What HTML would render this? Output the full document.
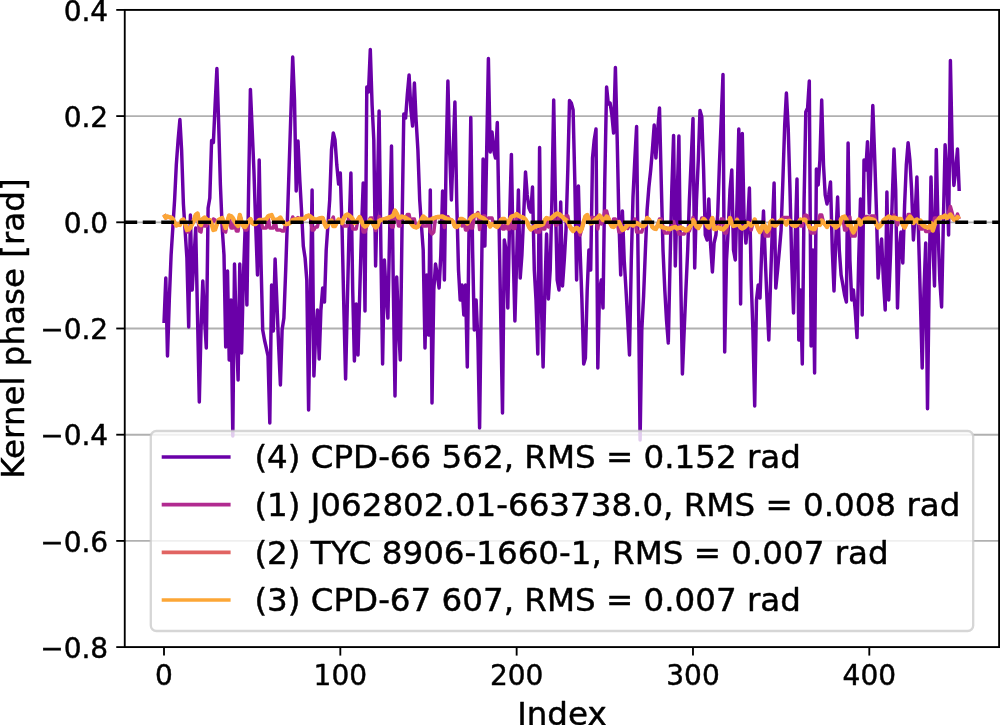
<!DOCTYPE html>
<html lang="en"><head><meta charset="utf-8"><title>Kernel phase</title>
<style>html,body{margin:0;padding:0;background:#fff;}body{width:1000px;height:725px;overflow:hidden;}svg{display:block;}text{font-family:"DejaVu Sans","Liberation Sans",sans-serif;fill:#000;stroke:#000;stroke-width:0.45px;stroke-linejoin:round;}</style>
</head><body>
<svg width="1000" height="725" viewBox="0 0 1000 725">
<rect x="0" y="0" width="1000" height="725" fill="#ffffff"/>
<g stroke="#b0b0b0" stroke-width="1.85" fill="none">
<line x1="124.75" y1="9.90" x2="999.10" y2="9.90"/>
<line x1="124.75" y1="116.10" x2="999.10" y2="116.10"/>
<line x1="124.75" y1="222.30" x2="999.10" y2="222.30"/>
<line x1="124.75" y1="328.50" x2="999.10" y2="328.50"/>
<line x1="124.75" y1="434.70" x2="999.10" y2="434.70"/>
<line x1="124.75" y1="540.90" x2="999.10" y2="540.90"/>
<line x1="124.75" y1="647.10" x2="999.10" y2="647.10"/>
</g>
<defs><clipPath id="ax"><rect x="124.75" y="9.90" width="874.35" height="637.20"/></clipPath></defs>
<g clip-path="url(#ax)" fill="none" stroke-linejoin="round" stroke-linecap="butt">
<polyline points="164.0,323.0 165.8,278.0 167.5,356.0 169.3,300.0 171.1,255.0 172.8,228.0 174.6,200.0 176.3,165.0 178.1,140.0 179.9,119.6 181.6,150.0 183.4,204.0 185.2,232.0 186.9,258.0 188.7,327.0 190.4,215.0 192.2,290.0 194.0,258.0 195.7,228.0 197.5,315.0 199.3,402.0 201.0,330.0 202.8,281.0 204.6,320.0 206.3,348.0 208.1,208.0 209.8,198.0 211.6,140.6 213.4,142.4 215.1,105.0 216.9,68.6 218.7,125.0 220.4,185.0 222.2,228.0 224.0,255.0 225.7,347.0 227.5,271.0 229.2,360.0 231.0,300.0 232.8,436.0 234.5,264.0 236.3,330.0 238.1,380.0 239.8,264.0 241.6,353.0 243.3,280.0 245.1,229.0 246.9,305.0 248.6,190.0 250.4,89.4 252.2,130.0 253.9,170.0 255.7,225.0 257.5,275.0 259.2,160.0 261.0,262.0 262.7,330.0 264.5,340.0 266.3,348.0 268.0,356.0 269.8,423.0 271.6,285.0 273.3,331.0 275.1,259.0 276.8,300.0 278.6,345.0 280.4,385.0 282.1,330.0 283.9,318.0 285.7,270.0 287.4,220.0 289.2,165.0 291.0,110.0 292.7,57.0 294.5,100.0 296.2,191.0 298.0,141.0 299.8,180.0 301.5,210.0 303.3,246.0 305.1,258.0 306.8,280.0 308.6,410.0 310.3,300.0 312.1,190.0 313.9,376.0 315.6,335.0 317.4,310.0 319.2,359.0 320.9,310.0 322.7,288.0 324.5,302.0 326.2,250.0 328.0,224.0 329.7,200.0 331.5,150.0 333.3,133.0 335.0,140.0 336.8,165.0 338.6,184.0 340.3,173.0 342.1,230.0 343.9,310.0 345.6,379.0 347.4,300.0 349.1,230.0 350.9,173.0 352.7,290.0 354.4,361.0 356.2,304.0 358.0,355.0 359.7,295.0 361.5,230.0 363.2,183.0 365.0,311.0 366.8,87.0 368.5,92.0 370.3,49.6 372.1,105.0 373.8,140.0 375.6,266.0 377.4,190.0 379.1,111.0 380.9,250.0 382.6,364.0 384.4,260.0 386.2,295.0 387.9,318.0 389.7,230.0 391.5,146.0 393.2,280.0 395.0,396.0 396.7,277.0 398.5,325.0 400.3,360.0 402.0,230.0 403.8,114.0 405.6,118.0 407.3,95.0 409.1,75.0 410.9,110.0 412.6,126.0 414.4,83.0 416.1,120.0 417.9,150.0 419.7,200.0 421.4,225.0 423.2,250.0 425.0,348.0 426.7,275.0 428.5,335.0 430.3,190.0 432.0,403.0 433.8,290.0 435.5,264.0 437.3,275.0 439.1,288.0 440.8,255.0 442.6,191.0 444.4,280.0 446.1,160.0 447.9,81.0 449.6,150.0 451.4,200.0 453.2,150.0 454.9,102.0 456.7,200.0 458.5,270.0 460.2,300.0 462.0,285.0 463.8,315.0 465.5,285.0 467.3,367.0 469.0,230.0 470.8,117.4 472.6,250.0 474.3,330.0 476.1,300.0 477.9,340.0 479.6,428.0 481.4,290.0 483.1,159.0 484.9,246.0 486.7,150.0 488.4,58.6 490.2,152.0 492.0,132.0 493.7,150.0 495.5,158.0 497.3,122.6 499.0,220.0 500.8,320.0 502.5,413.0 504.3,240.0 506.1,250.0 507.8,308.0 509.6,220.0 511.4,154.4 513.1,250.0 514.9,321.0 516.6,262.0 518.4,190.0 520.2,278.0 521.9,255.0 523.7,215.0 525.5,172.0 527.2,195.0 529.0,208.0 530.8,212.0 532.5,187.0 534.3,270.0 536.0,300.0 537.8,354.0 539.6,147.6 541.3,300.0 543.1,367.0 544.9,290.0 546.6,234.0 548.4,299.0 550.2,270.0 551.9,200.0 553.7,100.0 555.4,200.0 557.2,280.0 559.0,290.0 560.7,202.0 562.5,286.0 564.3,260.0 566.0,230.0 567.8,170.0 569.5,100.6 571.3,103.0 573.1,110.0 574.8,180.0 576.6,280.0 578.4,186.0 580.1,250.0 581.9,300.0 583.7,364.0 585.4,358.0 587.2,290.0 588.9,250.0 590.7,270.0 592.5,158.0 594.2,140.0 596.0,129.0 597.8,368.0 599.5,290.0 601.3,280.0 603.0,308.0 604.8,180.0 606.6,87.0 608.3,104.0 610.1,103.0 611.9,115.0 613.6,133.0 615.4,67.6 617.2,140.0 618.9,220.0 620.7,275.0 622.4,211.0 624.2,260.0 626.0,290.0 627.7,320.0 629.5,355.0 631.3,260.0 633.0,197.0 634.8,160.0 636.6,126.6 638.3,280.0 640.1,440.0 641.8,330.0 643.6,296.0 645.4,250.0 647.1,210.0 648.9,187.0 650.7,170.0 652.4,150.0 654.2,125.0 655.9,158.0 657.7,130.0 659.5,108.0 661.2,180.0 663.0,250.0 664.8,290.0 666.5,320.0 668.3,343.0 670.1,260.0 671.8,190.0 673.6,135.4 675.3,266.0 677.1,200.0 678.9,136.0 680.6,270.0 682.4,374.0 684.2,330.0 685.9,290.0 687.7,250.0 689.4,200.0 691.2,160.0 693.0,118.6 694.7,268.0 696.5,200.0 698.3,160.0 700.0,110.4 701.8,117.0 703.6,170.0 705.3,235.0 707.1,240.0 708.8,199.0 710.6,245.0 712.4,272.0 714.1,243.0 715.9,235.0 717.7,215.0 719.4,165.0 721.2,120.0 723.0,74.4 724.7,352.0 726.5,260.0 728.2,230.0 730.0,190.0 731.8,170.0 733.5,250.0 735.3,260.0 737.1,200.0 738.8,129.0 740.6,304.0 742.3,133.4 744.1,220.0 745.9,243.0 747.6,225.0 749.4,188.0 751.2,280.0 752.9,330.0 754.7,406.0 756.5,300.0 758.2,285.0 760.0,298.0 761.7,250.0 763.5,211.0 765.3,260.0 767.0,300.0 768.8,340.0 770.6,280.0 772.3,230.0 774.1,183.0 775.8,288.0 777.6,270.0 779.4,250.0 781.1,230.0 782.9,180.0 784.7,125.0 786.4,93.0 788.2,128.0 790.0,190.0 791.7,260.0 793.5,313.0 795.2,240.0 797.0,179.0 798.8,340.0 800.5,290.0 802.3,364.0 804.1,200.0 805.8,112.0 807.6,108.0 809.3,81.0 811.1,346.0 812.9,250.0 814.6,373.0 816.4,169.0 818.2,185.0 819.9,160.0 821.7,100.0 823.5,165.0 825.2,195.0 827.0,204.0 828.7,195.0 830.5,182.0 832.3,250.0 834.0,291.0 835.8,240.0 837.6,197.0 839.3,250.0 841.1,275.0 842.9,285.0 844.6,295.0 846.4,302.0 848.1,143.0 849.9,260.0 851.7,300.0 853.4,290.0 855.2,310.0 857.0,337.6 858.7,260.0 860.5,199.0 862.2,315.0 864.0,160.0 865.8,170.0 867.5,141.7 869.3,213.0 871.1,160.0 872.8,105.6 874.6,155.0 876.4,210.0 878.1,278.0 879.9,255.0 881.6,239.0 883.4,280.0 885.2,310.0 886.9,192.0 888.7,300.0 890.5,255.0 892.2,201.0 894.0,149.0 895.7,190.0 897.5,308.0 899.3,250.0 901.0,232.0 902.8,263.0 904.6,205.0 906.3,165.0 908.1,142.7 909.9,160.0 911.6,190.0 913.4,240.0 915.1,215.0 916.9,177.0 918.7,240.0 920.4,300.0 922.2,368.0 924.0,290.0 925.7,243.0 927.5,408.8 929.3,270.0 931.0,177.0 932.8,240.0 934.5,286.0 936.3,149.4 938.1,230.0 939.8,280.0 941.6,307.0 943.4,220.0 945.1,144.8 946.9,175.0 948.6,235.0 950.4,60.6 952.2,150.0 953.9,185.4 955.7,170.0 957.5,149.0 959.2,191.0" stroke="#6a00a8" stroke-width="3.47"/>
<polyline points="164.0,214.5 165.8,217.5 167.5,216.5 169.3,217.0 171.1,217.5 172.8,219.0 174.6,222.5 176.3,225.5 178.1,224.5 179.9,225.0 181.6,220.5 183.4,219.5 185.2,224.0 186.9,232.0 188.7,232.0 190.4,227.5 192.2,224.0 194.0,220.0 195.7,215.0 197.5,213.5 199.3,231.0 201.0,232.0 202.8,219.0 204.6,226.0 206.3,226.0 208.1,222.0 209.8,220.0 211.6,224.0 213.4,219.0 215.1,220.0 216.9,224.0 218.7,220.0 220.4,219.0 222.2,218.0 224.0,231.0 225.7,232.0 227.5,221.0 229.2,215.5 231.0,228.0 232.8,228.0 234.5,221.0 236.3,231.0 238.1,231.0 239.8,215.0 241.6,222.0 243.3,226.0 245.1,230.0 246.9,230.0 248.6,221.0 250.4,219.0 252.2,223.0 253.9,224.0 255.7,224.0 257.5,222.0 259.2,220.0 261.0,220.0 262.7,228.0 264.5,228.0 266.3,228.0 268.0,216.5 269.8,228.0 271.6,228.0 273.3,228.0 275.1,220.0 276.8,230.0 278.6,230.0 280.4,230.0 282.1,231.0 283.9,231.0 285.7,224.0 287.4,224.0 289.2,223.5 291.0,222.0 292.7,217.0 294.5,219.5 296.2,219.5 298.0,217.5 299.8,219.0 301.5,219.0 303.3,219.0 305.1,218.0 306.8,216.0 308.6,215.5 310.3,216.5 312.1,230.0 313.9,230.0 315.6,227.0 317.4,227.0 319.2,218.5 320.9,218.0 322.7,218.0 324.5,223.5 326.2,227.0 328.0,225.0 329.7,221.0 331.5,220.5 333.3,217.0 335.0,226.0 336.8,222.5 338.6,219.5 340.3,221.0 342.1,223.0 343.9,226.0 345.6,226.0 347.4,226.0 349.1,215.5 350.9,217.0 352.7,229.0 354.4,229.0 356.2,229.0 358.0,219.5 359.7,217.0 361.5,221.0 363.2,232.0 365.0,232.0 366.8,225.5 368.5,222.5 370.3,218.0 372.1,218.0 373.8,225.0 375.6,230.5 377.4,226.0 379.1,216.5 380.9,220.0 382.6,219.5 384.4,219.0 386.2,218.5 387.9,218.0 389.7,217.0 391.5,227.0 393.2,227.0 395.0,210.5 396.7,213.5 398.5,226.0 400.3,226.0 402.0,216.5 403.8,217.0 405.6,218.0 407.3,214.5 409.1,214.5 410.9,223.0 412.6,219.0 414.4,219.0 416.1,227.5 417.9,226.5 419.7,223.0 421.4,219.5 423.2,226.0 425.0,226.0 426.7,226.0 428.5,220.0 430.3,232.0 432.0,234.0 433.8,232.0 435.5,217.5 437.3,217.0 439.1,217.0 440.8,216.5 442.6,216.5 444.4,227.5 446.1,218.5 447.9,216.5 449.6,219.5 451.4,220.0 453.2,222.0 454.9,226.5 456.7,227.0 458.5,225.5 460.2,219.0 462.0,226.0 463.8,220.0 465.5,230.0 467.3,230.0 469.0,221.5 470.8,228.0 472.6,228.0 474.3,215.5 476.1,215.0 477.9,212.5 479.6,229.5 481.4,217.5 483.1,216.0 484.9,216.0 486.7,221.0 488.4,218.0 490.2,218.0 492.0,218.0 493.7,224.5 495.5,226.0 497.3,227.0 499.0,224.5 500.8,220.0 502.5,229.0 504.3,229.0 506.1,221.5 507.8,229.0 509.6,229.0 511.4,216.5 513.1,228.5 514.9,228.5 516.6,214.0 518.4,215.5 520.2,216.5 521.9,217.0 523.7,218.0 525.5,219.5 527.2,222.5 529.0,227.0 530.8,229.5 532.5,228.0 534.3,227.0 536.0,232.0 537.8,232.0 539.6,232.0 541.3,225.0 543.1,229.0 544.9,229.0 546.6,218.0 548.4,227.0 550.2,219.0 551.9,217.5 553.7,216.0 555.4,225.0 557.2,225.0 559.0,214.0 560.7,215.5 562.5,217.0 564.3,219.0 566.0,216.0 567.8,216.0 569.5,225.5 571.3,229.0 573.1,231.0 574.8,229.0 576.6,228.0 578.4,229.0 580.1,235.0 581.9,228.5 583.7,222.0 585.4,216.5 587.2,215.0 588.9,220.0 590.7,217.5 592.5,217.5 594.2,217.5 596.0,219.0 597.8,229.0 599.5,215.5 601.3,224.0 603.0,220.0 604.8,211.0 606.6,211.0 608.3,218.0 610.1,223.0 611.9,226.5 613.6,219.0 615.4,219.0 617.2,222.5 618.9,232.0 620.7,232.0 622.4,230.0 624.2,229.0 626.0,227.0 627.7,228.5 629.5,224.0 631.3,224.5 633.0,225.5 634.8,219.0 636.6,232.0 638.3,232.0 640.1,232.0 641.8,232.0 643.6,226.0 645.4,224.5 647.1,218.0 648.9,219.5 650.7,222.5 652.4,227.0 654.2,228.5 655.9,229.0 657.7,225.5 659.5,219.0 661.2,219.0 663.0,227.5 664.8,233.0 666.5,233.0 668.3,233.0 670.1,229.0 671.8,228.0 673.6,221.5 675.3,227.0 677.1,228.5 678.9,234.0 680.6,234.0 682.4,234.0 684.2,234.0 685.9,230.5 687.7,231.0 689.4,231.0 691.2,225.0 693.0,217.5 694.7,222.5 696.5,226.5 698.3,228.0 700.0,225.0 701.8,218.0 703.6,218.0 705.3,220.5 707.1,226.0 708.8,227.5 710.6,222.0 712.4,218.0 714.1,229.0 715.9,229.0 717.7,227.5 719.4,228.0 721.2,219.0 723.0,219.0 724.7,233.0 726.5,233.0 728.2,222.5 730.0,218.0 731.8,223.5 733.5,226.0 735.3,225.5 737.1,218.5 738.8,225.0 740.6,227.5 742.3,228.5 744.1,227.5 745.9,226.0 747.6,223.0 749.4,224.0 751.2,230.0 752.9,223.0 754.7,219.5 756.5,224.5 758.2,229.0 760.0,232.0 761.7,228.5 763.5,223.0 765.3,236.0 767.0,236.0 768.8,236.0 770.6,222.0 772.3,220.5 774.1,225.5 775.8,225.5 777.6,223.5 779.4,221.5 781.1,220.0 782.9,217.5 784.7,217.5 786.4,217.5 788.2,217.5 790.0,221.0 791.7,224.5 793.5,225.5 795.2,226.0 797.0,225.0 798.8,222.0 800.5,226.0 802.3,226.0 804.1,216.0 805.8,215.0 807.6,216.0 809.3,227.0 811.1,233.0 812.9,233.0 814.6,233.0 816.4,225.5 818.2,224.5 819.9,215.0 821.7,215.0 823.5,222.5 825.2,224.5 827.0,227.0 828.7,223.5 830.5,221.5 832.3,224.0 834.0,225.5 835.8,227.5 837.6,226.0 839.3,224.5 841.1,219.0 842.9,217.0 844.6,230.0 846.4,230.0 848.1,225.0 849.9,217.0 851.7,236.0 853.4,236.0 855.2,236.0 857.0,222.0 858.7,219.5 860.5,224.5 862.2,222.0 864.0,220.0 865.8,216.5 867.5,216.5 869.3,218.5 871.1,216.0 872.8,216.0 874.6,216.0 876.4,224.5 878.1,227.5 879.9,226.0 881.6,224.0 883.4,220.5 885.2,219.0 886.9,218.0 888.7,216.5 890.5,217.5 892.2,218.0 894.0,215.0 895.7,218.0 897.5,225.0 899.3,219.0 901.0,219.0 902.8,224.5 904.6,227.5 906.3,224.0 908.1,214.5 909.9,214.5 911.6,218.5 913.4,223.0 915.1,220.5 916.9,219.5 918.7,222.5 920.4,229.0 922.2,229.0 924.0,226.0 925.7,231.5 927.5,231.5 929.3,231.5 931.0,223.0 932.8,230.5 934.5,218.0 936.3,218.0 938.1,220.0 939.8,217.5 941.6,217.0 943.4,217.0 945.1,215.5 946.9,218.0 948.6,213.0 950.4,206.5 952.2,213.0 953.9,219.5 955.7,219.5 957.5,214.0 959.2,219.0" stroke="#b12a90" stroke-width="3.47"/>
<polyline points="164.0,215.3 165.8,218.0 167.5,217.1 169.3,217.5 171.1,218.0 172.8,219.3 174.6,222.5 176.3,225.2 178.1,224.3 179.9,224.7 181.6,220.7 183.4,219.8 185.2,223.8 186.9,229.2 188.7,228.8 190.4,227.0 192.2,223.8 194.0,220.2 195.7,215.7 197.5,214.4 199.3,222.9 201.0,224.7 202.8,219.3 204.6,218.0 206.3,219.3 208.1,222.0 209.8,220.2 211.6,223.8 213.4,229.2 215.1,228.8 216.9,223.8 218.7,220.2 220.4,219.3 222.2,218.4 224.0,222.9 225.7,227.4 227.5,221.1 229.2,216.2 231.0,216.6 232.8,218.4 234.5,221.1 236.3,223.8 238.1,225.6 239.8,215.7 241.6,222.0 243.3,225.6 245.1,226.5 246.9,223.8 248.6,221.1 250.4,219.3 252.2,222.9 253.9,223.8 255.7,223.8 257.5,222.0 259.2,220.2 261.0,220.2 262.7,220.2 264.5,219.8 266.3,219.3 268.0,217.1 269.8,216.2 271.6,215.7 273.3,219.3 275.1,220.2 276.8,219.8 278.6,219.3 280.4,218.0 282.1,220.7 283.9,222.9 285.7,223.8 287.4,223.8 289.2,223.4 291.0,222.0 292.7,220.2 294.5,219.8 296.2,219.8 298.0,219.3 299.8,219.3 301.5,219.3 303.3,219.3 305.1,218.4 306.8,216.6 308.6,216.2 310.3,217.1 312.1,218.4 313.9,219.3 315.6,219.8 317.4,219.8 319.2,218.9 320.9,218.4 322.7,218.4 324.5,223.4 326.2,226.5 328.0,224.7 329.7,221.1 331.5,220.7 333.3,225.6 335.0,225.6 336.8,222.5 338.6,219.8 340.3,221.1 342.1,222.9 343.9,218.4 345.6,216.2 347.4,215.3 349.1,216.2 350.9,217.5 352.7,219.3 354.4,222.9 356.2,222.0 358.0,219.8 359.7,217.5 361.5,221.1 363.2,224.7 365.0,226.1 366.8,225.2 368.5,222.5 370.3,220.2 372.1,222.5 373.8,224.7 375.6,227.0 377.4,225.6 379.1,221.1 380.9,220.2 382.6,219.8 384.4,219.3 386.2,218.9 387.9,218.4 389.7,217.5 391.5,217.1 393.2,216.2 395.0,211.7 396.7,214.4 398.5,218.0 400.3,218.0 402.0,217.1 403.8,217.5 405.6,218.4 407.3,219.3 409.1,220.2 410.9,222.9 412.6,225.2 414.4,226.5 416.1,227.0 417.9,226.1 419.7,222.9 421.4,219.8 423.2,217.1 425.0,218.4 426.7,219.8 428.5,220.2 430.3,219.8 432.0,219.3 433.8,218.4 435.5,218.0 437.3,217.5 439.1,217.5 440.8,217.1 442.6,217.1 444.4,218.0 446.1,218.9 447.9,219.3 449.6,219.8 451.4,220.2 453.2,222.0 454.9,226.1 456.7,226.5 458.5,225.2 460.2,219.3 462.0,219.3 463.8,220.2 465.5,221.6 467.3,223.4 469.0,221.6 470.8,218.4 472.6,217.1 474.3,216.2 476.1,215.7 477.9,215.3 479.6,217.1 481.4,218.0 483.1,218.4 484.9,219.8 486.7,221.1 488.4,223.4 490.2,226.1 492.0,223.8 493.7,224.3 495.5,225.6 497.3,226.5 499.0,224.3 500.8,220.2 502.5,219.3 504.3,219.3 506.1,221.6 507.8,222.9 509.6,220.2 511.4,217.1 513.1,216.6 514.9,216.2 516.6,214.8 518.4,216.2 520.2,217.1 521.9,217.5 523.7,218.4 525.5,219.8 527.2,222.5 529.0,226.5 530.8,228.8 532.5,227.4 534.3,226.5 536.0,225.6 537.8,225.6 539.6,225.2 541.3,224.7 543.1,223.8 544.9,220.2 546.6,218.4 548.4,218.9 550.2,219.3 551.9,218.0 553.7,216.6 555.4,215.3 557.2,214.4 559.0,214.8 560.7,216.2 562.5,217.5 564.3,219.3 566.0,220.2 567.8,222.0 569.5,225.2 571.3,228.3 573.1,230.1 574.8,228.3 576.6,227.4 578.4,228.3 580.1,230.6 581.9,227.9 583.7,222.0 585.4,217.1 587.2,215.7 588.9,220.2 590.7,223.4 592.5,222.5 594.2,220.7 596.0,219.3 597.8,218.0 599.5,216.2 601.3,218.0 603.0,220.2 604.8,220.2 606.6,217.1 608.3,218.4 610.1,222.9 611.9,226.1 613.6,226.5 615.4,224.7 617.2,222.5 618.9,222.0 620.7,225.6 622.4,229.2 624.2,228.3 626.0,226.5 627.7,224.7 629.5,223.8 631.3,224.3 633.0,225.2 634.8,223.8 636.6,222.9 638.3,223.8 640.1,224.7 641.8,225.6 643.6,225.6 645.4,224.3 647.1,218.4 648.9,219.8 650.7,222.5 652.4,226.5 654.2,227.9 655.9,228.3 657.7,225.2 659.5,221.1 661.2,226.5 663.0,227.0 664.8,227.4 666.5,227.9 668.3,228.3 670.1,228.3 671.8,227.4 673.6,227.0 675.3,226.5 677.1,227.9 678.9,227.4 680.6,227.0 682.4,227.9 684.2,228.8 685.9,229.7 687.7,228.8 689.4,227.0 691.2,224.7 693.0,220.2 694.7,222.5 696.5,226.1 698.3,227.4 700.0,224.7 701.8,221.6 703.6,219.3 705.3,220.7 707.1,225.6 708.8,227.0 710.6,222.0 712.4,218.4 714.1,228.3 715.9,228.3 717.7,227.0 719.4,227.4 721.2,228.3 723.0,228.8 724.7,227.4 726.5,225.6 728.2,222.5 730.0,218.4 731.8,223.4 733.5,225.6 735.3,225.2 737.1,220.2 738.8,224.7 740.6,227.0 742.3,227.9 744.1,227.0 745.9,225.6 747.6,222.9 749.4,223.8 751.2,225.2 752.9,222.9 754.7,219.8 756.5,224.3 758.2,228.3 760.0,231.0 761.7,227.9 763.5,222.9 765.3,226.5 767.0,230.6 768.8,228.3 770.6,222.0 772.3,220.7 774.1,225.2 775.8,225.2 777.6,223.4 779.4,221.6 781.1,220.2 782.9,220.7 784.7,222.5 786.4,224.3 788.2,221.1 790.0,221.1 791.7,224.3 793.5,225.2 795.2,225.6 797.0,224.7 798.8,222.0 800.5,219.8 802.3,220.2 804.1,219.8 805.8,220.7 807.6,222.9 809.3,226.5 811.1,227.9 812.9,228.3 814.6,228.3 816.4,225.2 818.2,224.3 819.9,224.7 821.7,220.7 823.5,222.5 825.2,224.3 827.0,226.5 828.7,223.4 830.5,221.6 832.3,223.8 834.0,225.2 835.8,227.0 837.6,225.6 839.3,224.3 841.1,219.3 842.9,217.5 844.6,217.1 846.4,219.8 848.1,224.7 849.9,223.4 851.7,228.3 853.4,231.5 855.2,228.3 857.0,222.0 858.7,219.8 860.5,224.3 862.2,222.0 864.0,220.2 865.8,219.3 867.5,218.9 869.3,218.9 871.1,219.3 872.8,219.8 874.6,220.7 876.4,224.3 878.1,227.0 879.9,225.6 881.6,223.8 883.4,220.7 885.2,219.3 886.9,218.4 888.7,217.1 890.5,218.0 892.2,218.4 894.0,218.0 895.7,218.4 897.5,219.3 899.3,219.3 901.0,219.3 902.8,224.3 904.6,227.0 906.3,223.8 908.1,219.3 909.9,217.1 911.6,218.9 913.4,222.9 915.1,220.7 916.9,219.8 918.7,222.5 920.4,220.7 922.2,224.3 924.0,225.6 925.7,226.5 927.5,227.0 929.3,227.0 931.0,222.9 932.8,229.7 934.5,224.7 936.3,221.6 938.1,220.2 939.8,218.0 941.6,217.5 943.4,217.5 945.1,216.2 946.9,218.4 948.6,217.1 950.4,215.3 952.2,217.5 953.9,219.8 955.7,219.8 957.5,217.5 959.2,219.3" stroke="#e16462" stroke-width="3.47"/>
<polyline points="164.0,214.5 165.8,217.5 167.5,216.5 169.3,217.0 171.1,217.5 172.8,219.0 174.6,222.5 176.3,225.5 178.1,224.5 179.9,225.0 181.6,220.5 183.4,219.5 185.2,224.0 186.9,230.0 188.7,229.5 190.4,227.5 192.2,224.0 194.0,220.0 195.7,215.0 197.5,213.5 199.3,223.0 201.0,225.0 202.8,219.0 204.6,217.5 206.3,219.0 208.1,222.0 209.8,220.0 211.6,224.0 213.4,230.0 215.1,229.5 216.9,224.0 218.7,220.0 220.4,219.0 222.2,218.0 224.0,223.0 225.7,228.0 227.5,221.0 229.2,215.5 231.0,216.0 232.8,218.0 234.5,221.0 236.3,224.0 238.1,226.0 239.8,215.0 241.6,222.0 243.3,226.0 245.1,227.0 246.9,224.0 248.6,221.0 250.4,219.0 252.2,223.0 253.9,224.0 255.7,224.0 257.5,222.0 259.2,220.0 261.0,220.0 262.7,220.0 264.5,219.5 266.3,219.0 268.0,216.5 269.8,215.5 271.6,215.0 273.3,219.0 275.1,220.0 276.8,219.5 278.6,219.0 280.4,217.5 282.1,220.5 283.9,223.0 285.7,224.0 287.4,224.0 289.2,223.5 291.0,222.0 292.7,220.0 294.5,219.5 296.2,219.5 298.0,219.0 299.8,219.0 301.5,219.0 303.3,219.0 305.1,218.0 306.8,216.0 308.6,215.5 310.3,216.5 312.1,218.0 313.9,219.0 315.6,219.5 317.4,219.5 319.2,218.5 320.9,218.0 322.7,218.0 324.5,223.5 326.2,227.0 328.0,225.0 329.7,221.0 331.5,220.5 333.3,226.0 335.0,226.0 336.8,222.5 338.6,219.5 340.3,221.0 342.1,223.0 343.9,218.0 345.6,215.5 347.4,214.5 349.1,215.5 350.9,217.0 352.7,219.0 354.4,223.0 356.2,222.0 358.0,219.5 359.7,217.0 361.5,221.0 363.2,225.0 365.0,226.5 366.8,225.5 368.5,222.5 370.3,220.0 372.1,222.5 373.8,225.0 375.6,227.5 377.4,226.0 379.1,221.0 380.9,220.0 382.6,219.5 384.4,219.0 386.2,218.5 387.9,218.0 389.7,217.0 391.5,216.5 393.2,215.5 395.0,210.5 396.7,213.5 398.5,217.5 400.3,217.5 402.0,216.5 403.8,217.0 405.6,218.0 407.3,219.0 409.1,220.0 410.9,223.0 412.6,225.5 414.4,227.0 416.1,227.5 417.9,226.5 419.7,223.0 421.4,219.5 423.2,216.5 425.0,218.0 426.7,219.5 428.5,220.0 430.3,219.5 432.0,219.0 433.8,218.0 435.5,217.5 437.3,217.0 439.1,217.0 440.8,216.5 442.6,216.5 444.4,217.5 446.1,218.5 447.9,219.0 449.6,219.5 451.4,220.0 453.2,222.0 454.9,226.5 456.7,227.0 458.5,225.5 460.2,219.0 462.0,219.0 463.8,220.0 465.5,221.5 467.3,223.5 469.0,221.5 470.8,218.0 472.6,216.5 474.3,215.5 476.1,215.0 477.9,214.5 479.6,216.5 481.4,217.5 483.1,218.0 484.9,219.5 486.7,221.0 488.4,223.5 490.2,226.5 492.0,224.0 493.7,224.5 495.5,226.0 497.3,227.0 499.0,224.5 500.8,220.0 502.5,219.0 504.3,219.0 506.1,221.5 507.8,223.0 509.6,220.0 511.4,216.5 513.1,216.0 514.9,215.5 516.6,214.0 518.4,215.5 520.2,216.5 521.9,217.0 523.7,218.0 525.5,219.5 527.2,222.5 529.0,227.0 530.8,229.5 532.5,228.0 534.3,227.0 536.0,226.0 537.8,226.0 539.6,225.5 541.3,225.0 543.1,224.0 544.9,220.0 546.6,218.0 548.4,218.5 550.2,219.0 551.9,217.5 553.7,216.0 555.4,214.5 557.2,213.5 559.0,214.0 560.7,215.5 562.5,217.0 564.3,219.0 566.0,220.0 567.8,222.0 569.5,225.5 571.3,229.0 573.1,231.0 574.8,229.0 576.6,228.0 578.4,229.0 580.1,231.5 581.9,228.5 583.7,222.0 585.4,216.5 587.2,215.0 588.9,220.0 590.7,223.5 592.5,222.5 594.2,220.5 596.0,219.0 597.8,217.5 599.5,215.5 601.3,217.5 603.0,220.0 604.8,220.0 606.6,216.5 608.3,218.0 610.1,223.0 611.9,226.5 613.6,227.0 615.4,225.0 617.2,222.5 618.9,222.0 620.7,226.0 622.4,230.0 624.2,229.0 626.0,227.0 627.7,225.0 629.5,224.0 631.3,224.5 633.0,225.5 634.8,224.0 636.6,223.0 638.3,224.0 640.1,225.0 641.8,226.0 643.6,226.0 645.4,224.5 647.1,218.0 648.9,219.5 650.7,222.5 652.4,227.0 654.2,228.5 655.9,229.0 657.7,225.5 659.5,221.0 661.2,227.0 663.0,227.5 664.8,228.0 666.5,228.5 668.3,229.0 670.1,229.0 671.8,228.0 673.6,227.5 675.3,227.0 677.1,228.5 678.9,228.0 680.6,227.5 682.4,228.5 684.2,229.5 685.9,230.5 687.7,229.5 689.4,227.5 691.2,225.0 693.0,220.0 694.7,222.5 696.5,226.5 698.3,228.0 700.0,225.0 701.8,221.5 703.6,219.0 705.3,220.5 707.1,226.0 708.8,227.5 710.6,222.0 712.4,218.0 714.1,229.0 715.9,229.0 717.7,227.5 719.4,228.0 721.2,229.0 723.0,229.5 724.7,228.0 726.5,226.0 728.2,222.5 730.0,218.0 731.8,223.5 733.5,226.0 735.3,225.5 737.1,220.0 738.8,225.0 740.6,227.5 742.3,228.5 744.1,227.5 745.9,226.0 747.6,223.0 749.4,224.0 751.2,225.5 752.9,223.0 754.7,219.5 756.5,224.5 758.2,229.0 760.0,232.0 761.7,228.5 763.5,223.0 765.3,227.0 767.0,231.5 768.8,229.0 770.6,222.0 772.3,220.5 774.1,225.5 775.8,225.5 777.6,223.5 779.4,221.5 781.1,220.0 782.9,220.5 784.7,222.5 786.4,224.5 788.2,221.0 790.0,221.0 791.7,224.5 793.5,225.5 795.2,226.0 797.0,225.0 798.8,222.0 800.5,219.5 802.3,220.0 804.1,219.5 805.8,220.5 807.6,223.0 809.3,227.0 811.1,228.5 812.9,229.0 814.6,229.0 816.4,225.5 818.2,224.5 819.9,225.0 821.7,220.5 823.5,222.5 825.2,224.5 827.0,227.0 828.7,223.5 830.5,221.5 832.3,224.0 834.0,225.5 835.8,227.5 837.6,226.0 839.3,224.5 841.1,219.0 842.9,217.0 844.6,216.5 846.4,219.5 848.1,225.0 849.9,223.5 851.7,229.0 853.4,232.5 855.2,229.0 857.0,222.0 858.7,219.5 860.5,224.5 862.2,222.0 864.0,220.0 865.8,219.0 867.5,218.5 869.3,218.5 871.1,219.0 872.8,219.5 874.6,220.5 876.4,224.5 878.1,227.5 879.9,226.0 881.6,224.0 883.4,220.5 885.2,219.0 886.9,218.0 888.7,216.5 890.5,217.5 892.2,218.0 894.0,217.5 895.7,218.0 897.5,219.0 899.3,219.0 901.0,219.0 902.8,224.5 904.6,227.5 906.3,224.0 908.1,219.0 909.9,216.5 911.6,218.5 913.4,223.0 915.1,220.5 916.9,219.5 918.7,222.5 920.4,220.5 922.2,224.5 924.0,226.0 925.7,227.0 927.5,227.5 929.3,227.5 931.0,223.0 932.8,230.5 934.5,225.0 936.3,221.5 938.1,220.0 939.8,217.5 941.6,217.0 943.4,217.0 945.1,215.5 946.9,218.0 948.6,216.5 950.4,214.5 952.2,217.0 953.9,219.5 955.7,219.5 957.5,217.0 959.2,219.0" stroke="#fca636" stroke-width="4.40"/>
<line x1="124.30" y1="222.30" x2="1004.10" y2="222.30" stroke="#000" stroke-width="3.47" stroke-dasharray="12.9 5.566"/>
</g>
<g stroke="#000" stroke-width="1.85" fill="none" stroke-linecap="square">
<rect x="124.75" y="9.90" width="874.35" height="637.20"/>
</g>
<g stroke="#000" stroke-width="1.85" fill="none">
<line x1="116.25" y1="9.90" x2="124.75" y2="9.90"/>
<line x1="116.25" y1="116.10" x2="124.75" y2="116.10"/>
<line x1="116.25" y1="222.30" x2="124.75" y2="222.30"/>
<line x1="116.25" y1="328.50" x2="124.75" y2="328.50"/>
<line x1="116.25" y1="434.70" x2="124.75" y2="434.70"/>
<line x1="116.25" y1="540.90" x2="124.75" y2="540.90"/>
<line x1="116.25" y1="647.10" x2="124.75" y2="647.10"/>
<line x1="164.00" y1="647.10" x2="164.00" y2="655.60"/>
<line x1="340.32" y1="647.10" x2="340.32" y2="655.60"/>
<line x1="516.65" y1="647.10" x2="516.65" y2="655.60"/>
<line x1="692.98" y1="647.10" x2="692.98" y2="655.60"/>
<line x1="869.30" y1="647.10" x2="869.30" y2="655.60"/>
</g>
<g font-size="28.00">
<text x="108.20" y="20.60" text-anchor="end">0.4</text>
<text x="108.20" y="126.80" text-anchor="end">0.2</text>
<text x="108.20" y="233.00" text-anchor="end">0.0</text>
<text x="108.20" y="339.20" text-anchor="end">−0.2</text>
<text x="108.20" y="445.40" text-anchor="end">−0.4</text>
<text x="108.20" y="551.60" text-anchor="end">−0.6</text>
<text x="108.20" y="657.80" text-anchor="end">−0.8</text>
<text x="164.00" y="684.80" text-anchor="middle">0</text>
<text x="340.32" y="684.80" text-anchor="middle">100</text>
<text x="516.65" y="684.80" text-anchor="middle">200</text>
<text x="692.98" y="684.80" text-anchor="middle">300</text>
<text x="869.30" y="684.80" text-anchor="middle">400</text>
</g>
<text x="561.92" y="724.70" font-size="32.53" text-anchor="middle">Index</text>
<text transform="translate(24.40,328.50) rotate(-90)" font-size="32.53" text-anchor="middle">Kernel phase [rad]</text>
<rect x="150.80" y="431.00" width="822.40" height="200.00" rx="5.6" ry="5.6" fill="#ffffff" fill-opacity="0.8" stroke="#cccccc" stroke-opacity="0.8" stroke-width="2.3"/>
<line x1="161.7" y1="457.00" x2="230.6" y2="457.00" stroke="#6a00a8" stroke-width="3.7"/>
<text x="254.4" y="468.20" font-size="32.53">(4) CPD-66 562, RMS = 0.152 rad</text>
<line x1="161.7" y1="504.67" x2="230.6" y2="504.67" stroke="#b12a90" stroke-width="3.7"/>
<text x="254.4" y="515.87" font-size="32.53">(1) J062802.01-663738.0, RMS = 0.008 rad</text>
<line x1="161.7" y1="552.34" x2="230.6" y2="552.34" stroke="#e16462" stroke-width="3.7"/>
<text x="254.4" y="563.54" font-size="32.53">(2) TYC 8906-1660-1, RMS = 0.007 rad</text>
<line x1="161.7" y1="600.01" x2="230.6" y2="600.01" stroke="#fca636" stroke-width="3.7"/>
<text x="254.4" y="611.21" font-size="32.53">(3) CPD-67 607, RMS = 0.007 rad</text>
</svg>
</body></html>
